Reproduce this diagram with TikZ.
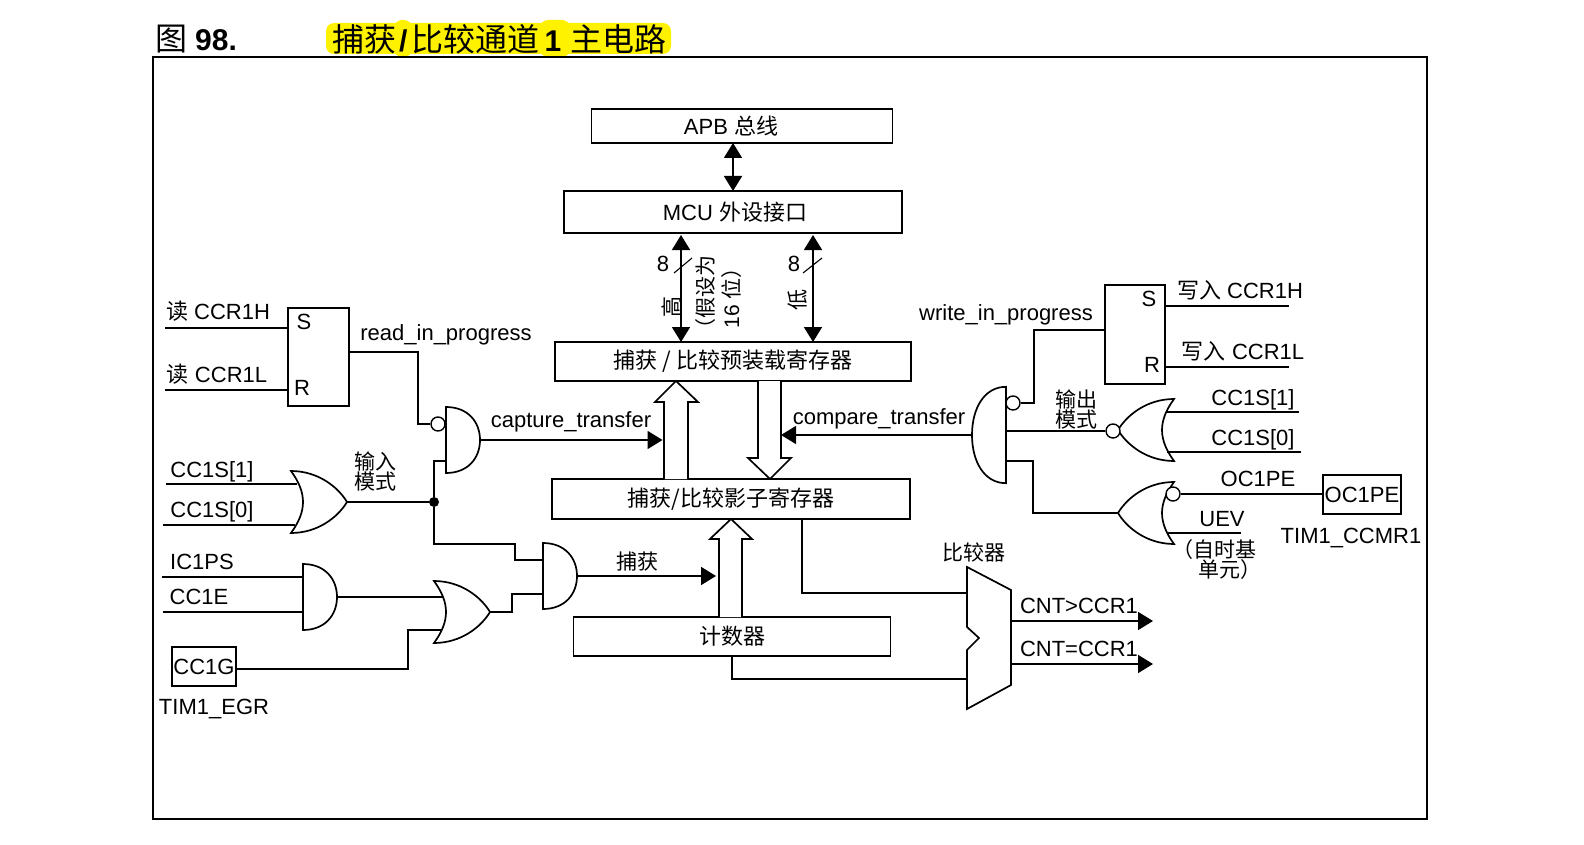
\documentclass[tikz,border=0pt]{standalone}
\usepackage{fontspec}
\setmainfont{Liberation Sans}
\newfontfamily\cjk{Noto Sans CJK SC}
\usetikzlibrary{positioning}
\usetikzlibrary{calc}
\usetikzlibrary{arrows.meta}

\begin{document}
\begin{tikzpicture}[
        x=1pt,
        y=1pt,
        wire/.style={
            line width=1.7pt,
        },
        transfer/.style={
            wire,
            -{Triangle[width=18pt,length=15pt]},
        },
        bus/.style={
            wire,
            {Triangle[width=18pt,length=15pt]}-{Triangle[width=18pt,length=15pt]},
        },
        hollow/.style={
            wire,
            fill=white,
        },
        box/.style={
            draw,
            line width=1.7pt,
            inner sep=0pt,
            outer sep=0pt,
            font=\fontsize{22}{24}\selectfont,
        },
        lbl/.style={
            inner sep=0pt,
            text height=16pt,
            text depth=0pt,
            font=\fontsize{22}{24}\selectfont,
        },
        twolines/.style={
            inner sep=0pt,
            align=center,
            font=\fontsize{21}{20}\selectfont\cjk,
        },
        bubble/.style={
            draw,
            circle,
            fill=white,
            line width=1.4pt,
            inner sep=0pt,
            minimum size=14pt,
        },
        dot/.style={
            fill,
            circle,
            inner sep=0pt,
            minimum size=10pt,
        },
        andgate/.pic={
            \draw[wire, fill=white] (0,33) .. controls (22,33) and (34,18) .. (34,0)
                .. controls (34,-18) and (22,-33) .. (0,-33) -- cycle;
            \coordinate (-in) at (0,0);
            \coordinate (-out) at (34,0);
        },
        orgate/.pic={
            \draw[wire, fill=white] (-12,31) .. controls (-4,20) and (0,10) .. (0,0)
                .. controls (0,-10) and (-4,-20) .. (-12,-31)
                .. controls (15,-31) and (35,-15) .. (44,0)
                .. controls (35,15) and (15,31) .. (-12,31) -- cycle;
            \coordinate (-in) at (0,0);
            \coordinate (-out) at (44,0);
        },
    ]
    \useasboundingbox (0,0) rectangle (1584,-845);

    % Title.
    \fill[yellow, rounded corners=8pt] (326,-23) rectangle (671,-54);
    \fill[yellow, rounded corners=8pt] (394,-20) rectangle (412,-57);
    \fill[yellow, rounded corners=8pt] (540,-20) rectangle (570,-57);
    \node[inner sep=0pt, anchor=west, font=\fontsize{30}{32}\selectfont] (fig) at (155,-39)
        {{\fontsize{32}{32}\selectfont\cjk 图}\hspace{8pt}\textbf{98.}};
    \node[inner sep=0pt, anchor=west, font=\fontsize{30}{32}\selectfont] (title) at (332,-39)
        {{\fontsize{32}{32}\selectfont\cjk 捕获}\hspace{3pt}\textbf{/}\hspace{4pt}{\fontsize{32}{32}\selectfont\cjk 比较通道}\hspace{5pt}\textbf{1}\hspace{9pt}{\fontsize{32}{32}\selectfont\cjk 主电路}};

    % Frame.
    \draw[wire] (153,-57) rectangle (1427,-819);

    % Define boxes.
    \node[box, minimum width=301pt, minimum height=34pt] (apb) at (742,-126) {APB {\cjk 总线}\kern22pt};
    \node[box, minimum width=338pt, minimum height=42pt] (mcu) at (733,-212) {\hspace{4pt}MCU {\cjk 外设接口}};
    \node[box, minimum width=356pt, minimum height=39pt] (pre) at (733,-361.5) {\cjk 捕获 / 比较预装载寄存器};
    \node[box, minimum width=358pt, minimum height=40pt] (sha) at (731,-499) {\cjk 捕获/比较影子寄存器};
    \node[box, minimum width=317pt, minimum height=39pt] (cnt) at (732,-636.5) {\cjk 计数器};
    \node[box, minimum width=61pt, minimum height=98pt] (srl) at (318.5,-357) {};
    \node[box, minimum width=60pt, minimum height=99pt] (srr) at (1135,-334.5) {};
    \node[box, minimum width=64pt, minimum height=39pt] (ccg) at (204,-666.5) {CC1G};
    \node[box, minimum width=78pt, minimum height=39pt] (ope) at (1362,-494.5) {OC1PE};

    % Define gates.
    \pic (andA) at (446,-440) {andgate};
    \pic (andB) at (303,-597) {andgate};
    \pic (andC) at (543,-576) {andgate};
    \pic[xscale=-1, yscale=1.46] (andD) at (1006,-435) {andgate};
    \pic (orA) at (303,-502) {orgate};
    \pic (orB) at (446,-612) {orgate};
    \pic[xscale=-1] (norA) at (1162,-430) {orgate};
    \pic[xscale=-1] (norB) at (1162,-513) {orgate};

    \node[bubble] (bubA) at (438,-424) {};
    \node[bubble] (bubB) at (1013,-403) {};
    \node[bubble] (bubC) at (1113,-431) {};
    \node[bubble] (bubD) at (1173,-494) {};
    \node[dot] (junc) at (434,-502) {};

    % Bus arrows.
    \draw[bus] (apb.south -| mcu.north) to (mcu.north);
    \draw[bus, shorten <=2pt] ($(mcu.south)+(-52,0)$) to ($(pre.north)+(-52,0)$);
    \draw[bus, shorten <=2pt] ($(mcu.south)+(80,0)$) to ($(pre.north)+(80,0)$);
    \draw[line width=1.1pt] (674,-273) to (692,-258);
    \draw[line width=1.1pt] (803,-273) to (822,-258);

    % Hollow arrows between registers.
    \coordinate (uptip) at ($(pre.south)+(-57,0)$);
    \coordinate (dntip) at ($(sha.north)+(39,0)$);
    \coordinate (bottip) at (sha.south);
    \draw[hollow] ($(uptip)+(-12,-98)$) -- ++(0,77) -- ++(-9,0) -- (uptip)
        -- ++(22,-21) -- ++(-10,0) -- ++(0,-77);
    \draw[hollow] ($(dntip)+(-12,98)$) -- ++(0,-77) -- ++(-10,0) -- (dntip)
        -- ++(21,21) -- ++(-10,0) -- ++(0,77);
    \draw[hollow] ($(bottip)+(-12,-98)$) -- ++(0,78) -- ++(-9,0) -- (bottip)
        -- ++(21,-20) -- ++(-10,0) -- ++(0,-78);

    % Comparator.
    \coordinate (cmpa) at (967,-593);
    \coordinate (cmpb) at (967,-679);
    \coordinate (cmpgt) at (1011,-621);
    \coordinate (cmpeq) at (1011,-664);
    \coordinate[right=142 of cmpgt] (gtend);
    \coordinate[right=142 of cmpeq] (eqend);
    \draw[wire] (967,-567) -- (1011,-590) -- (1011,-685) -- (967,-709) -- (967,-650)
        -- (979,-638) -- (967,-627) -- cycle;
    \draw[wire] ($(sha.south)+(71,0)$) |- (cmpa);
    \draw[wire] (cnt.south) |- (cmpb);
    \draw[transfer] (cmpgt) to (gtend);
    \draw[transfer] (cmpeq) to (eqend);

    % Left side inputs.
    \coordinate (inh) at (165,-328);
    \coordinate (inl) at (165,-390);
    \coordinate (ins1) at (166,-484);
    \coordinate (ins0) at (163,-525);
    \coordinate (ips) at (162,-577);
    \coordinate (ice) at (163,-612);
    \draw[wire] (inh) to (inh -| srl.west);
    \draw[wire] (inl) to (inl -| srl.west);
    \draw[wire] (ins1) to ($(orA-in)+(-6,18)$);
    \draw[wire] (ins0) to ($(orA-in)+(-8,-23)$);
    \draw[wire] (ips) to (ips -| andB-in);
    \draw[wire] (ice) to (ice -| andB-in);

    % Left side wiring.
    \draw[wire] ($(srl.east)+(0,5)$) -| ($(bubA.west)+(-12,0)$) to (bubA.west);
    \draw[wire] (orA-out) to (junc);
    \draw[wire] (junc) |- ($(andA-in)+(0,-21)$);
    \draw[wire] (junc) |- (515,-544) |- ($(andC-in)+(0,16)$);
    \draw[wire] (andB-out) to ($(orB-in)+(-3,15)$);
    \draw[wire] ($(ccg.east)+(0,-2.5)$) -| ($(orB-in)+(-38,-18)$) to ($(orB-in)+(-4,-18)$);
    \draw[wire] (orB-out) -| (512,-594) to ($(andC-in)+(0,-18)$);
    \draw[transfer] (andA-out) to (andA-out -| 662.5,0);
    \draw[transfer] (andC-out) to (andC-out -| 716,0);

    % Right side wiring.
    \coordinate (outh) at (1289,-306);
    \coordinate (outl) at (1289,-367);
    \coordinate (rs1) at (1299,-412);
    \coordinate (rs0) at (1301,-452);
    \coordinate (uev) at (1241,-533);
    \draw[wire] (outh -| srr.east) to (outh);
    \draw[wire] (outl -| srr.east) to (outl);
    \draw[wire] (rs1) to (rs1 -| 1166,0);
    \draw[wire] (rs0) to (rs0 -| 1167,0);
    \draw[wire] (uev) to (uev -| 1167,0);
    \draw[wire] ($(srr.west)+(0,4.5)$) -| ($(bubB.east)+(13,0)$) to (bubB.east);
    \draw[wire] (bubC.west -| andD-in) to (bubC.west);
    \draw[wire] ($(andD-in)+(0,-26)$) -- ++(27,0) |- (norB-out);
    \draw[wire] (bubD.east) to (bubD.east -| ope.west);
    \draw[transfer] (andD-out) to (andD-out -| 781,0);

    % Labels, left.
    \node[lbl] (lrh) at (218,-311) {{\cjk 读} CCR1H};
    \node[lbl] (lrl) at (217,-374) {{\cjk 读} CCR1L};
    \node[lbl] (ls) at (304,-321) {S};
    \node[lbl] (lr) at (302,-387) {R};
    \node[lbl] (lrip) at (446,-332) {read\_in\_progress};
    \node[lbl] (lcap) at (571,-419) {capture\_transfer};
    \node[lbl] (ls1) at (212,-469) {CC1S[1]};
    \node[lbl] (ls0) at (212,-509) {CC1S[0]};
    \node[twolines] (lin) at (375,-472) {输入\\模式};
    \node[lbl] (lips) at (202,-561) {IC1PS};
    \node[lbl] (lce) at (199,-596) {CC1E};
    \node[lbl, below=12 of ccg, xshift=10pt] (legr) {TIM1\_EGR};
    \node[lbl, font=\fontsize{21}{24}\selectfont\cjk] (lcatch) at (637,-561) {捕获};

    % Labels, middle.
    \node[lbl] (l8h) at (663,-263) {8};
    \node[lbl] (l8l) at (794,-263) {8};
    \node[lbl, rotate=90, font=\fontsize{21}{24}\selectfont\cjk] (lhi) at (671,-307) {高};
    \node[lbl, rotate=90, font=\fontsize{21}{24}\selectfont\cjk] (lass) at (705,-297) {（假设为};
    \node[lbl, rotate=90, font=\fontsize{21}{24}\selectfont] (lbit) at (731,-293) {16 {\cjk 位）}};
    \node[lbl, rotate=90, font=\fontsize{21}{24}\selectfont\cjk] (llo) at (797,-300) {低};
    \node[lbl, font=\fontsize{21}{24}\selectfont\cjk] (lcmp) at (974,-552) {比较器};
    \node[lbl] (lgt) at (1079,-605) {CNT>CCR1};
    \node[lbl] (leq) at (1079,-648) {CNT=CCR1};

    % Labels, right.
    \node[lbl] (lwip) at (1006,-312) {write\_in\_progress};
    \node[lbl] (lcmpt) at (879,-416) {compare\_transfer};
    \node[lbl] (lws) at (1149,-298) {S};
    \node[lbl] (lwr) at (1152,-364) {R};
    \node[lbl] (lwh) at (1240,-290) {{\cjk 写入} CCR1H};
    \node[lbl] (lwl) at (1243,-351) {{\cjk 写入} CCR1L};
    \node[lbl] (lr1) at (1253,-397) {CC1S[1]};
    \node[lbl] (lr0) at (1253,-437) {CC1S[0]};
    \node[twolines] (lout) at (1076,-410) {输出\\模式};
    \node[lbl] (lope) at (1258,-478) {OC1PE};
    \node[lbl] (luev) at (1222,-518) {UEV};
    \node[lbl, font=\fontsize{21}{24}\selectfont\cjk] (ltb) at (1214,-549) {（自时基};
    \node[lbl, font=\fontsize{21}{24}\selectfont\cjk] (lun) at (1230,-569) {单元）};
    \node[lbl, below=13 of ope, xshift=-11pt] (lccmr) {TIM1\_CCMR1};

\end{tikzpicture}
\end{document}
